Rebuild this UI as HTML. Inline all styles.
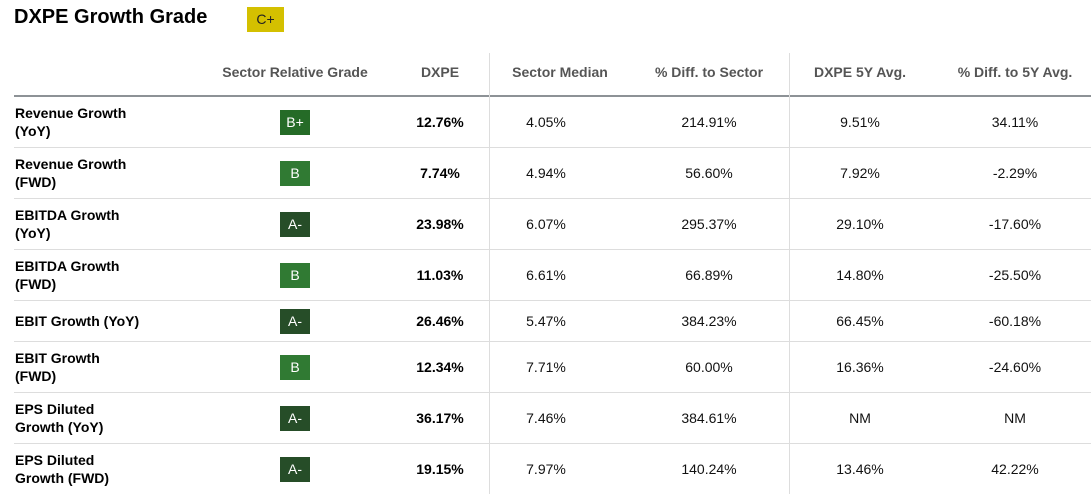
<!DOCTYPE html>
<html><head><meta charset="utf-8"><style>
body{margin:0;width:1091px;height:494px;background:#fff;font-family:"Liberation Sans",Arial,sans-serif;position:relative;overflow:hidden}
.abs{position:absolute}
.title{left:14px;top:6px;font-size:20px;font-weight:bold;color:#000}
.grade{left:247px;top:7px;width:37px;height:25px;background:#d4c000;color:#222;font-size:14px;text-align:center;line-height:25px}
.hd{top:64px;font-size:14px;font-weight:bold;color:#555;text-align:center;width:180px}
.hline{left:14px;width:1077px;height:1px;background:#ddd}
.vline{top:53px;height:441px;width:1px;background:#ddd}
.lab{position:absolute;left:15px;font-size:14px;font-weight:bold;line-height:18px;color:#000}
.cell{position:absolute;width:160px;text-align:center;font-size:14px;color:#111}
.b{font-weight:bold;color:#000}
.badge{position:absolute;left:280px;width:30px;height:25px;color:#fff;font-size:14px;text-align:center;line-height:25px}
</style></head><body>
<div class="abs title">DXPE Growth Grade</div>
<div class="abs grade">C+</div>
<div class="abs hd" style="left:205px">Sector Relative Grade</div>
<div class="abs hd" style="left:350px">DXPE</div>
<div class="abs hd" style="left:470px">Sector Median</div>
<div class="abs hd" style="left:619px">% Diff. to Sector</div>
<div class="abs hd" style="left:770px">DXPE 5Y Avg.</div>
<div class="abs hd" style="left:925px">% Diff. to 5Y Avg.</div>
<div class="abs hline" style="top:95px;height:2px;background:#8d9296"></div>
<div class="abs vline" style="left:489px"></div>
<div class="abs vline" style="left:789px"></div>
<div id="rows"></div>
<script>
const labels=[["Revenue Growth","(YoY)"],["Revenue Growth","(FWD)"],["EBITDA Growth","(YoY)"],["EBITDA Growth","(FWD)"],["EBIT Growth (YoY)"],["EBIT Growth","(FWD)"],["EPS Diluted","Growth (YoY)"],["EPS Diluted","Growth (FWD)"]];
const grades=["B+","B","A-","B","A-","B","A-","A-"];
const dxpe=["12.76%","7.74%","23.98%","11.03%","26.46%","12.34%","36.17%","19.15%"];
const sectorMedian=["4.05%","4.94%","6.07%","6.61%","5.47%","7.71%","7.46%","7.97%"];
const diffSector=["214.91%","56.60%","295.37%","66.89%","384.23%","60.00%","384.61%","140.24%"];
const avg5y=["9.51%","7.92%","29.10%","14.80%","66.45%","16.36%","NM","13.46%"];
const diff5y=["34.11%","-2.29%","-17.60%","-25.50%","-60.18%","-24.60%","NM","42.22%"];
const gradeColors={"B+":"#256b27","B":"#307a33","A-":"#264d28"};
const root=document.getElementById('rows');
let rowTop=97;
labels.forEach((lab,i)=>{
  const h=lab.length===1?41:51;
  const mid=rowTop+h/2;
  const lb=document.createElement('div');lb.className='lab';
  
  
  lb.innerHTML=lab.join('<br>');lb.style.top=(mid-lab.length*9-1)+'px';root.appendChild(lb);
  const bd=document.createElement('div');bd.className='badge';
  
  
  bd.textContent=grades[i];bd.style.background=gradeColors[grades[i]];bd.style.top=(mid-13)+'px';root.appendChild(bd);
  const cols=[[dxpe,440,true],[sectorMedian,546,false],[diffSector,709,false],[avg5y,860,false],[diff5y,1015,false]];
  cols.forEach(([arr,cx,bold])=>{
    const c=document.createElement('div');c.className='cell'+(bold?' b':'');
    
    
    c.textContent=arr[i];c.style.left=(cx-80)+'px';c.style.top=(mid-9)+'px';root.appendChild(c);
  });
  rowTop+=h;
  if(i<labels.length-1){
    const ln=document.createElement('div');ln.className='abs hline';
    
    
    ln.style.top=(rowTop-1)+'px';root.appendChild(ln);
  }
});
</script>
</body></html>
